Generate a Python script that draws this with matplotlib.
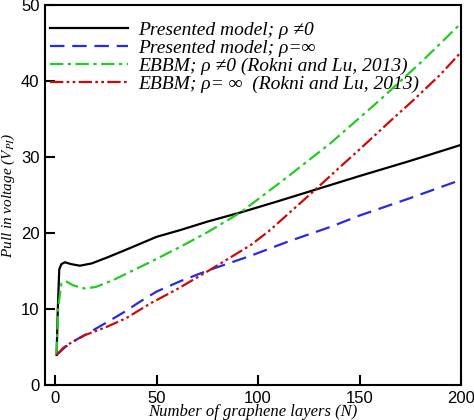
import numpy as np
import matplotlib
matplotlib.use('Agg')
import matplotlib.pyplot as plt

plt.rcParams['mathtext.fontset'] = 'stix'

# number of layers / pull-in voltage
n_black = [0.7, 1.3, 2, 3, 4.8, 8, 12.2, 18, 25.8, 34, 42, 50, 61.8, 75, 91.3, 110, 128.2, 150, 175, 200]
v_black = [3.95, 10, 15.2, 15.9, 16.15, 15.9, 15.7, 16.0, 16.8, 17.7, 18.6, 19.5, 20.4, 21.5, 22.7, 24.2, 25.7, 27.5, 29.5, 31.6]

n_blue = [0.7, 5, 10, 18, 25.8, 34, 42, 50, 62, 76.6, 96.3, 115, 135.6, 150, 175, 200]
v_blue = [3.95, 5.0, 5.9, 7.1, 8.3, 9.6, 11.0, 12.3, 13.7, 15.2, 17.0, 18.9, 20.8, 22.3, 24.6, 27.0]

n_green = [0.7, 1.5, 3.1, 5.6, 9, 14.6, 20, 28.5, 37, 47, 61.8, 75, 91.3, 112.6, 135.6, 160, 180, 200]
v_green = [3.95, 10.3, 13.4, 13.6, 13.1, 12.7, 12.9, 13.8, 14.9, 16.2, 18.2, 20.1, 22.7, 27.0, 31.8, 37.5, 42.4, 47.6]

n_red = [0.7, 4, 8, 15, 25, 35, 47, 60, 76.6, 96.3, 106, 116, 128.2, 140, 150, 165, 176.6, 190, 200]
v_red = [3.95, 4.9, 5.6, 6.6, 7.6, 8.8, 10.75, 12.6, 15.2, 18.4, 20.4, 22.8, 25.7, 28.6, 31.0, 34.7, 37.5, 40.9, 43.8]

labels = ['Presented model; \u03c1 \u22600',
          'Presented model; \u03c1=\u221e',
          'EBBM; \u03c1 \u22600 (Rokni and Lu, 2013)',
          'EBBM; \u03c1= \u221e  (Rokni and Lu, 2013)']

fig = plt.figure(figsize=(4.74, 4.2), dpi=100)
ax = fig.add_axes([0.095, 0.0833, 0.8776, 0.9047])

lw = 1.6
ax.plot(n_black, v_black, color='black', lw=lw, label=labels[0])
ax.plot(n_blue, v_blue, color='#2828e6', lw=lw, dashes=(6.5, 3.5), label=labels[1])
ax.plot(n_green, v_green, color='#22cc22', lw=lw, dashes=(6, 2, 1.5, 2), label=labels[2])
ax.plot(n_red, v_red, color='#cc0a0a', lw=lw, dashes=(6, 1.5, 1.2, 1.5, 1.2, 1.5), label=labels[3])

ax.set_xlim(-5, 200)
ax.set_ylim(0, 50)
ax.set_xticks([0, 50, 100, 150, 200])
ax.set_yticks([0, 10, 20, 30, 40, 50])

for s in ax.spines.values():
    s.set_linewidth(1.5)
ax.tick_params(direction='in', length=7, width=1.5, labelsize=12, pad=4)
for t in ax.get_xticklabels() + ax.get_yticklabels():
    t.set_family('Liberation Sans')

serif = ['Liberation Serif', 'DejaVu Serif']
ax.set_xlabel('Number of graphene layers (N)', family=serif, style='italic', fontsize=12, labelpad=-1)
ax.set_ylabel('Pull in voltage ($V_{PI}$)', family=serif, style='italic', fontsize=11, labelpad=3)

leg = ax.legend(loc='upper left', bbox_to_anchor=(0.012, 0.958), frameon=False,
                borderpad=0, borderaxespad=0, handlelength=4.0, handletextpad=0.55,
                labelspacing=0.02, fontsize=14)
for t in leg.get_texts():
    t.set_family(serif)
    t.set_style('italic')

fig.savefig('out.png', dpi=100)
